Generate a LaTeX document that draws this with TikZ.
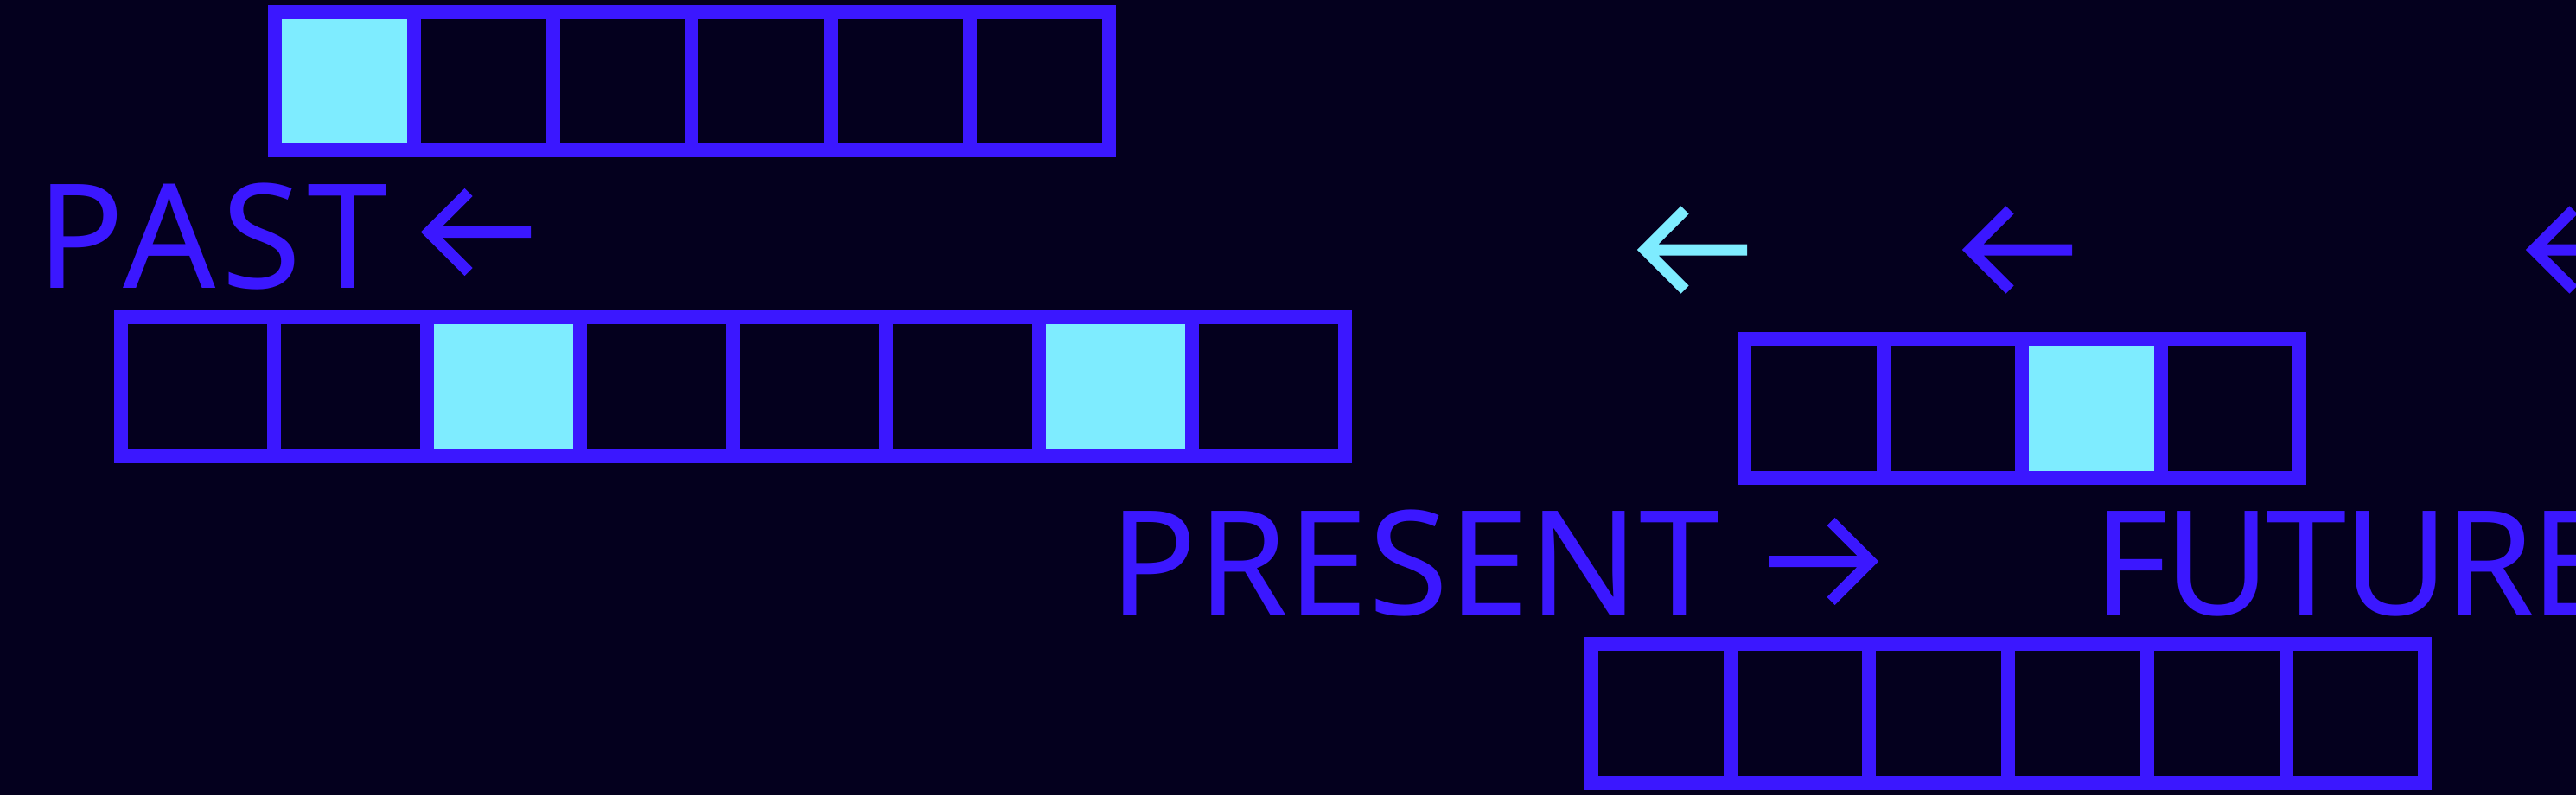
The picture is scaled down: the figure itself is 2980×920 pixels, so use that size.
\documentclass[tikz,border=0pt]{standalone}
\usepackage{fontspec}
\setmainfont{Noto Sans}
\definecolor{bgnavy}{HTML}{04001E}
\definecolor{cellblue}{HTML}{3B17FF}
\definecolor{lightcyan}{HTML}{7EECFF}
\begin{document}
\begin{tikzpicture}[x=0.1mm,y=-0.1mm]
\tikzstyle{cell}=[draw=cellblue,line width=1.6mm,inner sep=0pt,outer sep=0pt]
\tikzstyle{word}=[text=cellblue,anchor=base west,inner sep=0pt,font=\fontsize{47.8pt}{50pt}\selectfont]
\tikzstyle{arrowline}=[line width=1.3mm]
\tikzset{larrow/.pic={\draw[arrowline] (55,-46) -- (9,0) -- (55,46) (9,0) -- (127,0);}}
\useasboundingbox (0,0) rectangle (2980,920);
\fill[bgnavy] (0,0) rectangle (2980,920);
\foreach \i/\f in {1/lightcyan,2/none,3/none,4/none,5/none,6/none}
  \node[cell,fill=\f,minimum width=16.08mm,minimum height=16mm] (top\i) at ({318+160.8*(\i-0.5)},94) {};
\foreach \i/\f in {1/none,2/none,3/lightcyan,4/none,5/none,6/none,7/lightcyan,8/none}
  \node[cell,fill=\f,minimum width=17.7mm,minimum height=16.1mm] (mid\i) at ({140+177*(\i-0.5)},447.5) {};
\foreach \i/\f in {1/none,2/none,3/lightcyan,4/none}
  \node[cell,fill=\f,minimum width=16.05mm,minimum height=16.1mm] (right\i) at ({2018+160.5*(\i-0.5)},472.5) {};
\foreach \i in {1,...,6}
  \node[cell,minimum width=16.07mm,minimum height=16.1mm] (bot\i) at ({1841+160.7*(\i-0.5)},825.5) {};
\node[word] (past) at (42,333) {\addfontfeatures{LetterSpace=4}PAST};
\node[word] (present) at (1283,711) {PRESENT};
\node[word] (future) at (2421,711) {\addfontfeatures{LetterSpace=-3}FUTURE};
\pic[cellblue] (pastarrow) at (487,268.5) {larrow};
\pic[lightcyan] (firstarrow) at (1894,289) {larrow};
\pic[cellblue] (secondarrow) at (2270,289) {larrow};
\pic[cellblue] (thirdarrow) at (2922,289) {larrow};
\pic[cellblue,xscale=-1] (presentarrow) at (2173,649.5) {larrow};
\end{tikzpicture}
\end{document}
